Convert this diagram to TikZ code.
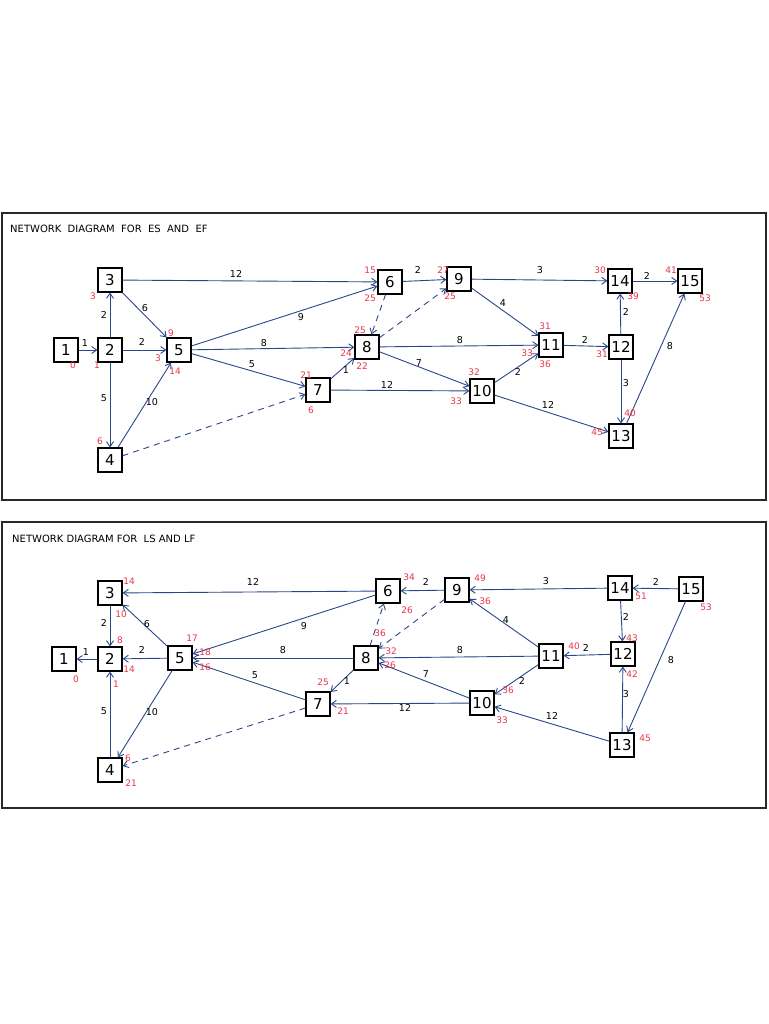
\documentclass[tikz,border=0pt]{standalone}
\usepackage{fontspec}
\setmainfont{DejaVu Sans}
\usetikzlibrary{arrows.meta}
\begin{document}
\begin{tikzpicture}[x=1pt,y=-1pt,
  box/.style={draw=black,line width=1.2pt,minimum size=24pt,inner sep=0pt,font=\fontsize{15}{15}\selectfont,fill=white},
  ed/.style={draw={rgb,255:red,43;green,70;blue,135},line width=0.9pt,-{Straight Barb[length=5pt,width=7pt]}},
  dsh/.style={ed,dash pattern=on 6pt off 5pt},
  lab/.style={font=\fontsize{9.5}{9.5}\selectfont,inner sep=0pt},
  rd/.style={text={rgb,255:red,232;green,52;blue,74},font=\fontsize{9}{9}\selectfont,inner sep=0pt},
  ttl/.style={font=\fontsize{10}{10}\selectfont,anchor=west,inner sep=0pt},
  panel/.style={draw={rgb,255:red,40;green,40;blue,40},line width=1.3pt}]
\useasboundingbox (0,0) rectangle (768,1024);
\draw[panel] (2,213) rectangle (766,500);
\draw[panel] (2,522) rectangle (766,808);
\node[ttl] (t1) at (10,229) {NETWORK\ \ DIAGRAM\ \ FOR\ \ ES\ \ AND\ \ EF};
\node[ttl] (t2) at (12,539) {NETWORK DIAGRAM FOR\ \ LS AND LF};
% ---------- top ----------
\node[box] (a1) at (66,350) {1};
\node[box] (a2) at (110,350) {2};
\node[box] (a3) at (110,280) {3};
\node[box] (a4) at (110,460) {4};
\node[box] (a5) at (179,350) {5};
\node[box] (a6) at (390,282) {6};
\node[box] (a7) at (318,390) {7};
\node[box] (a8) at (367,347) {8};
\node[box] (a9) at (459,279) {9};
\node[box] (a10) at (482,391) {10};
\node[box] (a11) at (551,345) {11};
\node[box] (a12) at (621,347) {12};
\node[box] (a13) at (621,436) {13};
\node[box] (a14) at (620,281) {14};
\node[box] (a15) at (690,281) {15};
\draw[ed] (a1)--(a2); \draw[ed] (a2)--(a3); \draw[ed] (a2)--(a5); \draw[ed] (a2)--(a4);
\draw[ed] (a3)--(a5); \draw[ed] (a3)--(a6); \draw[ed] (a4)--(a5); \draw[dsh] (a4)--(a7);
\draw[ed] (a5)--(a6); \draw[ed] (a5)--(a8); \draw[ed] (a5)--(a7); \draw[ed] (a7)--(a8);
\draw[ed] (a7)--(a10); \draw[dsh] (a6)--(a8); \draw[ed] (a6)--(a9); \draw[dsh] (a8)--(a9);
\draw[ed] (a8)--(a11); \draw[ed] (a8)--(a10); \draw[ed] (a9)--(a14); \draw[ed] (a9)--(a11);
\draw[ed] (a10)--(a11); \draw[ed] (a10)--(a13); \draw[ed] (a11)--(a12); \draw[ed] (a12)--(a14);
\draw[ed] (a12)--(a13); \draw[ed] (a13)--(a15); \draw[ed] (a14)--(a15);
\foreach \n/\x/\y/\t in {l1/85/343/1,l2/104/315/2,l3/142/342/2,l4/104/398/5,l5/145/308/6,l6/236/274/12,
 l7/152/402/10,l8/301/317/9,l9/264/343/8,l10/252/364/5,l11/346/370/1,l12/387/385/12,l13/418/270/2,
 l14/460/340/8,l15/419/363/7,l16/540/270/3,l17/503/303/4,l18/518/372/2,l19/548/405/12,l20/585/340/2,
 l21/626/312/2,l22/626/383/3,l23/670/346/8,l24/647/276/2}
 \node[lab] (a\n) at (\x,\y) {\t};
\foreach \n/\x/\y/\t in {r1/73/365/0,r2/97/365/1,r3/93/296/3,r4/100/441/6,r5/171/333/9,r6/158/358/3,
 r7/175/371/14,r8/370/270/15,r9/370/298/25,r10/306/375/21,r11/311/410/6,r12/360/330/25,r13/346/353/24,
 r14/362/366/22,r15/443/270/27,r16/450/296/25,r17/474/372/32,r18/456/401/33,r19/545/326/31,
 r20/527/353/33,r21/545/364/36,r22/602/354/31,r23/630/413/40,r24/597/432/45,r25/600/270/30,
 r26/633/296/39,r27/671/270/41,r28/705/298/53}
 \node[rd] (a\n) at (\x,\y) {\t};
% ---------- bottom ----------
\node[box] (b1) at (64,659) {1};
\node[box] (b2) at (110,659) {2};
\node[box] (b3) at (110,593) {3};
\node[box] (b4) at (110,770) {4};
\node[box] (b5) at (180,658) {5};
\node[box] (b6) at (388,591) {6};
\node[box] (b7) at (318,704) {7};
\node[box] (b8) at (366,658) {8};
\node[box] (b9) at (457,590) {9};
\node[box] (b10) at (482,703) {10};
\node[box] (b11) at (551,656) {11};
\node[box] (b12) at (623,654) {12};
\node[box] (b13) at (622,745) {13};
\node[box] (b14) at (620,588) {14};
\node[box] (b15) at (691,589) {15};
\draw[ed] (b2)--(b1); \draw[ed] (b3)--(b2); \draw[ed] (b5)--(b2); \draw[ed] (b4)--(b2);
\draw[ed] (b5)--(b3); \draw[ed] (b6)--(b3); \draw[ed] (b5)--(b4); \draw[dsh] (b7)--(b4);
\draw[ed] (b6)--(b5); \draw[ed] (b8)--(b5); \draw[ed] (b7)--(b5); \draw[ed] (b8)--(b7);
\draw[ed] (b10)--(b7); \draw[dsh] (b8)--(b6); \draw[ed] (b9)--(b6); \draw[dsh] (b9)--(b8);
\draw[ed] (b11)--(b8); \draw[ed] (b10)--(b8); \draw[ed] (b14)--(b9); \draw[ed] (b11)--(b9);
\draw[ed] (b11)--(b10); \draw[ed] (b13)--(b10); \draw[ed] (b12)--(b11); \draw[ed] (b14)--(b12);
\draw[ed] (b13)--(b12); \draw[ed] (b15)--(b13); \draw[ed] (b15)--(b14);
\foreach \n/\x/\y/\t in {l1/86/652/1,l2/104/623/2,l3/142/650/2,l4/104/711/5,l5/147/624/6,l6/253/582/12,
 l7/152/712/10,l8/304/626/9,l9/283/650/8,l10/255/675/5,l11/347/681/1,l12/405/708/12,l13/426/582/2,
 l14/460/650/8,l15/426/674/7,l16/546/581/3,l17/506/620/4,l18/522/681/2,l19/552/716/12,l20/586/648/2,
 l21/626/617/2,l22/626/694/3,l23/671/660/8,l24/656/582/2}
 \node[lab] (b\n) at (\x,\y) {\t};
\foreach \n/\x/\y/\t in {r1/76/679/0,r2/120/640/8,r3/129/669/14,r4/116/684/1,r5/129/581/14,r6/121/614/10,
 r7/128/758/6,r8/131/783/21,r9/192/638/17,r10/205/652/18,r11/205/667/16,r12/409/577/34,r13/407/610/26,
 r14/323/682/25,r15/343/711/21,r16/380/633/36,r17/391/651/32,r18/390/665/26,r19/480/578/49,
 r20/485/601/36,r21/508/690/36,r22/502/720/33,r23/574/646/40,r24/632/638/43,r25/632/674/42,
 r26/645/738/45,r27/641/596/51,r28/706/607/53}
 \node[rd] (b\n) at (\x,\y) {\t};
\end{tikzpicture}
\end{document}
